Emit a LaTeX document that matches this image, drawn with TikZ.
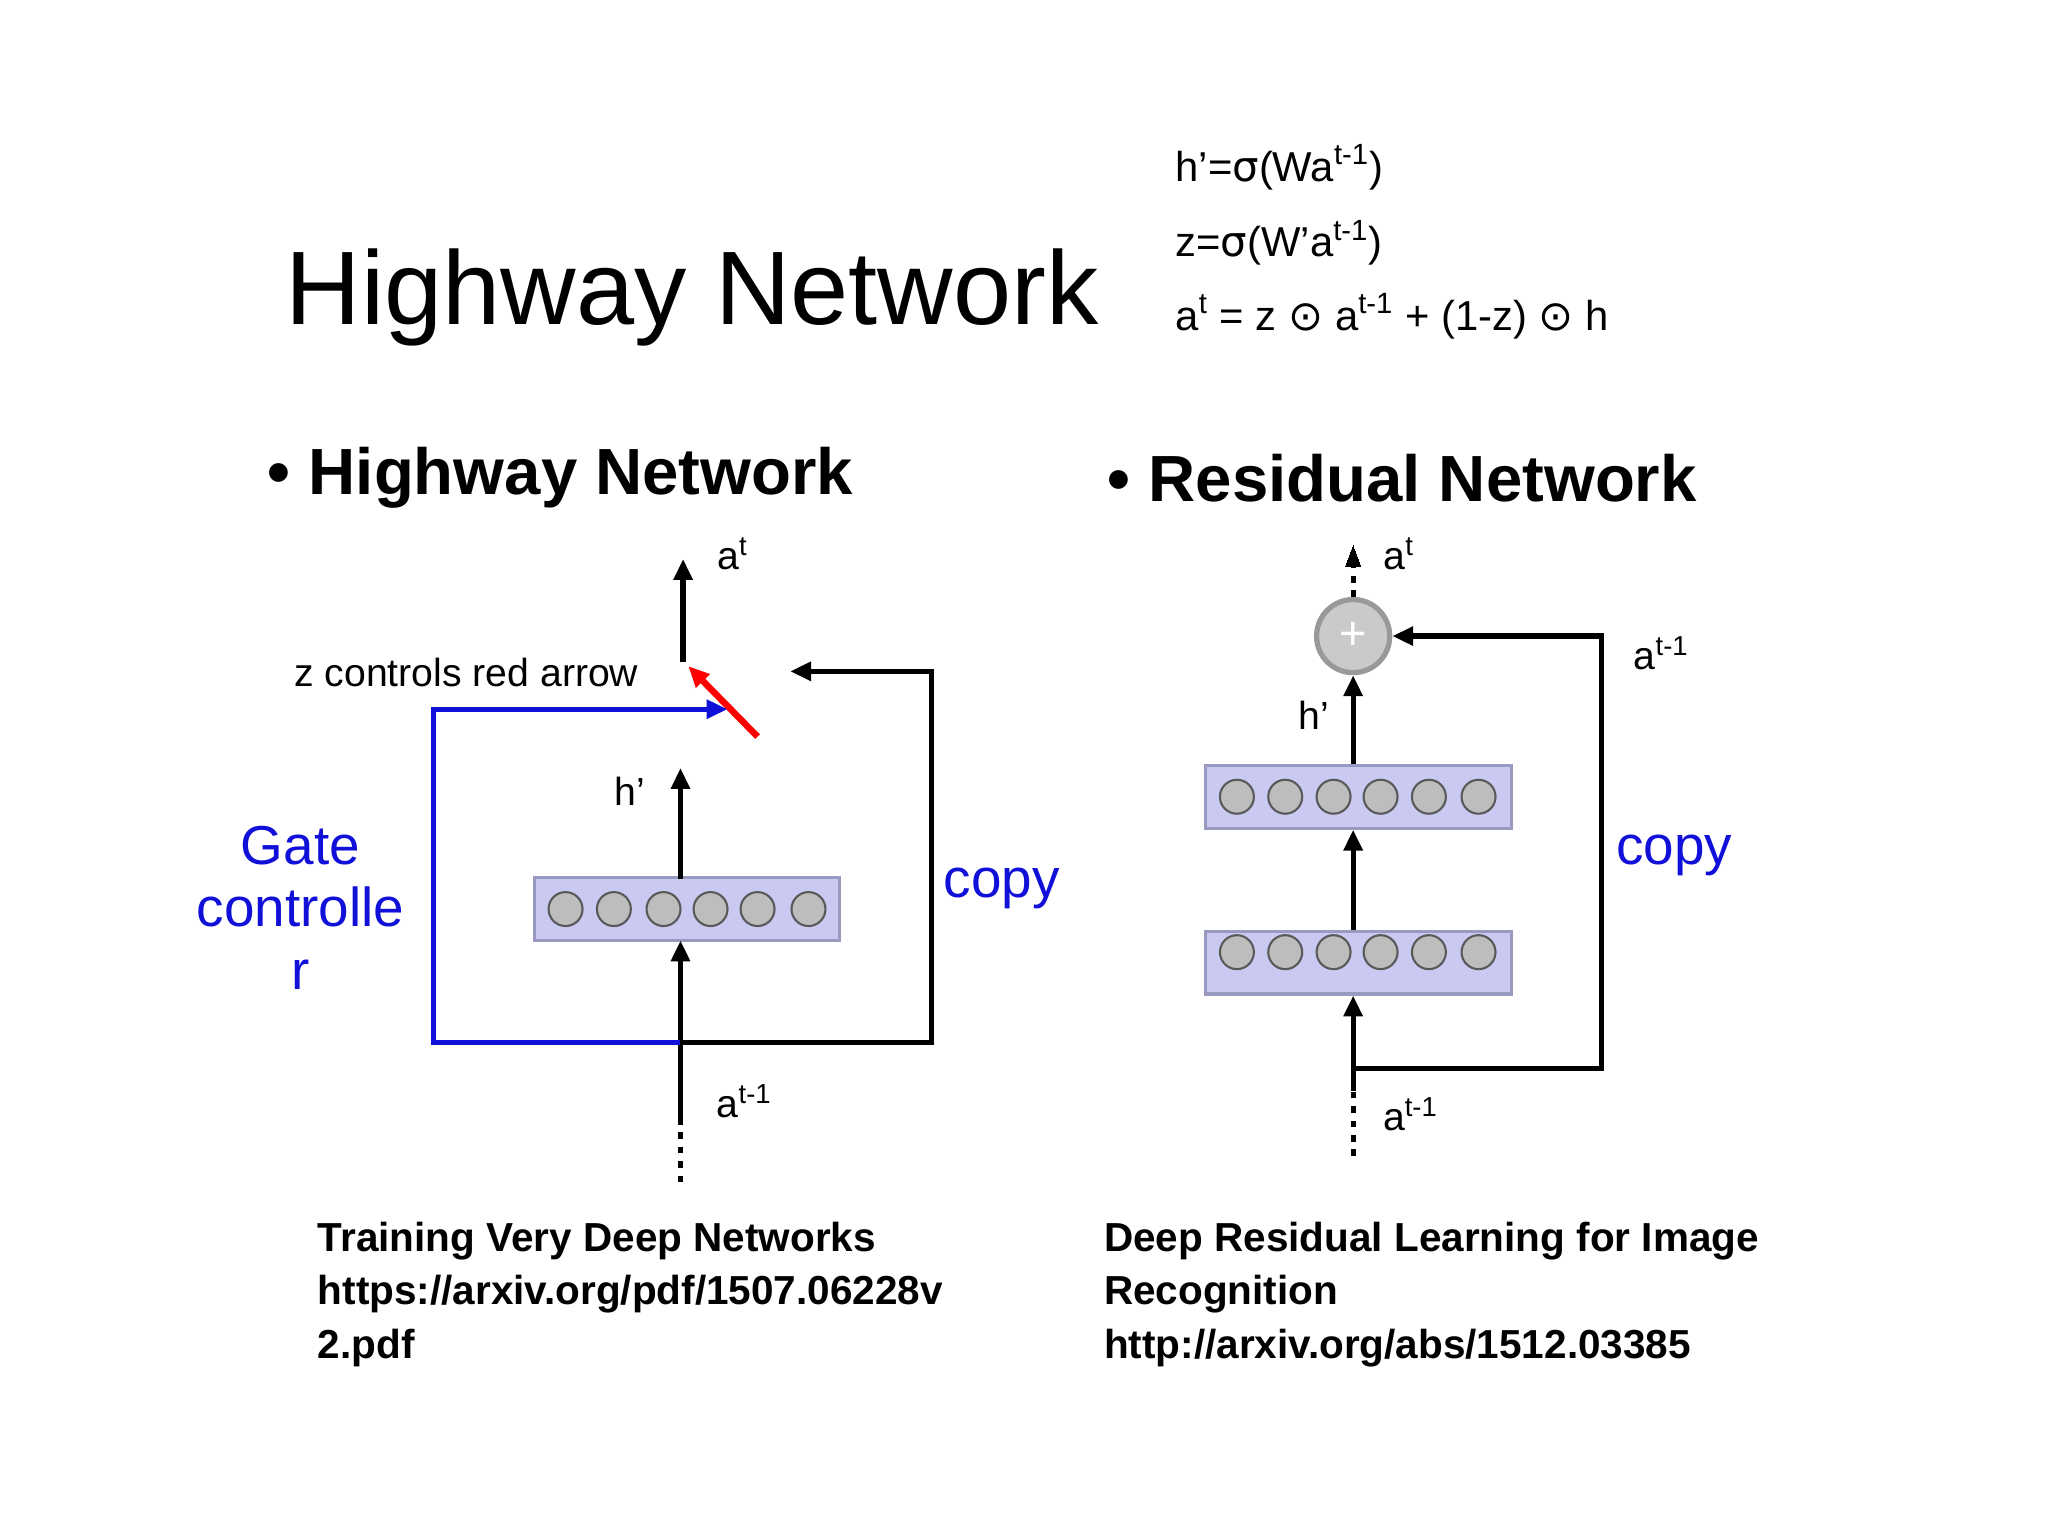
\documentclass[tikz,border=0pt]{standalone}
\usepackage{fontspec}
\setmainfont{Liberation Sans}
\newfontfamily\symf{DejaVu Sans}
\usetikzlibrary{arrows.meta}
\definecolor{boxfill}{HTML}{C9C9F2}
\definecolor{boxdraw}{HTML}{9A9AC0}
\definecolor{cfill}{HTML}{BDBDBD}
\definecolor{gblue}{HTML}{1010D8}
\tikzset{
 ar/.style={line width=2pt,-{Triangle[length=8pt,width=7pt]}},
 ln/.style={line width=2pt},
 dots/.style={line width=2pt,dash pattern=on 2.5pt off 3pt},
 layer/.style={draw=boxdraw,fill=boxfill,line width=1.2pt,minimum width=117pt,minimum height=24pt,inner sep=0pt},
 neur/.style={circle,draw=gray!70!black,fill=cfill,line width=0.8pt,minimum size=13pt,inner sep=0pt},
 lab/.style={font=\fontsize{15}{18}\selectfont},
 bl/.style={text=gblue,font=\fontsize{21}{25}\selectfont},
 ref/.style={font=\bfseries\fontsize{15.5}{20.5}\selectfont,align=left,anchor=north west,inner sep=0pt},
}
\begin{document}
\begin{tikzpicture}[x=0.5pt,y=-0.5pt]
\useasboundingbox[fill=white] (0,0) rectangle (1568,1176);
\node[font=\fontsize{40}{48}\selectfont] (title) at (530,228) {Highway Network};
\node[anchor=west,font=\fontsize{16}{19}\selectfont] (e1) at (893,128) {h’=\symf σ\rmfamily(Wa\textsuperscript{t-1})};
\node[anchor=west,font=\fontsize{16}{19}\selectfont] (e2) at (893,186) {z=\symf σ\rmfamily(W’a\textsuperscript{t-1})};
\node[anchor=west,font=\fontsize{16}{19}\selectfont] (e3) at (893,242) {a\textsuperscript{t} = z {\symf ⊙} a\textsuperscript{t-1} + (1-z) {\symf ⊙} h};
\node[anchor=west,font=\bfseries\fontsize{25}{30}\selectfont] (h1) at (198,366) {• Highway Network};
\node[anchor=west,font=\bfseries\fontsize{25}{30}\selectfont] (h2) at (841,366) {• Residual Network};
% left diagram
\node[layer] (L) at (526,696) {};
\foreach \x [count=\i] in {433,470,508,544,580,619} \node[neur] (ln\i) at (\x,696) {};
\coordinate (lbot) at (521,905);
\coordinate (lmid) at (521,860);
\coordinate (lj) at (521,798);
\draw[dots] (lbot) -- (lmid);
\draw[ar] (lmid) -- (521,720);
\draw[ar] (521,673) -- (521,588);
\coordinate (sw) at (523,507);
\draw[ar] (sw) -- (523,428);
\draw[line width=2.5pt,red,-{Triangle[length=8pt,width=7pt]}] (580,564) -- (527,510);
\draw[ln,gblue,-{Triangle[length=8pt,width=7pt]}] (lj) -| (332,543) -- (557,543);
\draw[ar] (lj) -| (713,514) -- (605,514);
\node[lab] (lat) at (561,424) {a\textsuperscript{t}};
\node[lab] (lh) at (482,606) {h’};
\node[lab] (lz) at (357,515) {z controls red arrow};
\node[lab] (la1) at (570,843) {a\textsuperscript{t-1}};
\node[bl] (lcopy) at (767,680) {copy};
\node[bl,align=center] (gate) at (230,695) {Gate\\[-1pt]controlle\\[-1pt]r};
% right diagram
\node[layer] (B2) at (1040,737) {};
\node[layer] (B1) at (1040,610) {};
\foreach \x [count=\i] in {947,984,1021,1057,1094,1132} {\node[neur] (ra\i) at (\x,610) {}; \node[neur] (rb\i) at (\x,729) {};}
\node[circle,draw=gray!80,fill=cfill!80,line width=2pt,minimum size=28pt,inner sep=0pt,text=white,font=\fontsize{18}{18}\selectfont] (plus) at (1036,487) {+};
\coordinate (rbot) at (1036,885);
\coordinate (rmid) at (1036,835);
\coordinate (rj) at (1036,818);
\draw[dots] (rbot) -- (rmid);
\draw[ar] (rmid) -- (B2.south -| rmid);
\draw[ar] (B2.north -| rmid) -- (B1.south -| rmid);
\draw[ar] (B1.north -| rmid) -- (plus.south);
\draw[dots] (plus.north) -- (1036,432);
\draw[line width=0pt,fill=black] (1030,434) -- (1042,434) -- (1036,418) -- cycle;
\draw[ar] (rj) -| (1226,487) -- (plus.east);
\node[lab] (rat) at (1071,424) {a\textsuperscript{t}};
\node[lab] (rh) at (1006,548) {h’};
\node[lab] (ra1) at (1272,500) {a\textsuperscript{t-1}};
\node[lab] (ra2) at (1080,853) {a\textsuperscript{t-1}};
\node[bl] (rcopy) at (1282,655) {copy};
% refs
\node[ref] (r1) at (243,935) {Training Very Deep Networks\\https://arxiv.org/pdf/1507.06228v\\2.pdf};
\node[ref] (r2) at (845,935) {Deep Residual Learning for Image\\Recognition\\http://arxiv.org/abs/1512.03385};
\end{tikzpicture}
\end{document}
